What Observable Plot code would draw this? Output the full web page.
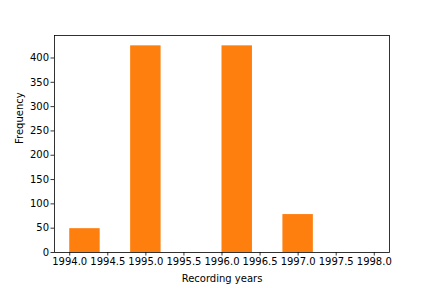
<!DOCTYPE html>
<html>
<head>
<meta charset="utf-8">
<script src="https://cdn.jsdelivr.net/npm/d3@7"></script>
<script src="https://cdn.jsdelivr.net/npm/@observablehq/plot@0.6"></script>
<style>
  html, body { margin: 0; padding: 0; background: #fff; }
  svg { display: block; }
</style>
</head>
<body>
<div id="chart"></div>
<script>
const binStart = [1994.0, 1994.4, 1994.8, 1995.2, 1995.6, 1996.0, 1996.4, 1996.8, 1997.2, 1997.6];
const binEnd   = [1994.4, 1994.8, 1995.2, 1995.6, 1996.0, 1996.4, 1996.8, 1997.2, 1997.6, 1998.0];
const counts   = [49, 0, 425, 0, 0, 425, 0, 78, 0, 0];
const xTicks = [1994.0, 1994.5, 1995.0, 1995.5, 1996.0, 1996.5, 1997.0, 1997.5, 1998.0];
const yTicks = [0, 50, 100, 150, 200, 250, 300, 350, 400];

const bins = binStart.map((s, i) => ({x1: s, x2: binEnd[i], count: counts[i]}));

const chart = Plot.plot({
  width: 432,
  height: 288,
  marginLeft: 54,
  marginRight: 43,
  marginTop: 35,
  marginBottom: 36,
  style: {fontFamily: "DejaVu Sans", fontSize: "10px", color: "#000", background: "#fff"},
  x: {domain: [1993.8, 1998.2], ticks: xTicks, tickFormat: d3.format(".1f"), tickSize: 3.5, tickPadding: 2, label: null},
  y: {domain: [0, 446.25], ticks: yTicks, tickSize: 3.5, tickPadding: 2, label: null},
  marks: [
    Plot.rectY(bins, {x1: "x1", x2: "x2", y: "count", fill: "#ff7f0e", inset: 0}),
    Plot.frame({stroke: "#000", strokeWidth: 0.8}),
    Plot.axisX({ticks: xTicks, tickFormat: d3.format(".1f"), tickSize: 3.5, tickPadding: 2, label: null, strokeWidth: 0.8}),
    Plot.axisY({ticks: yTicks, tickSize: 3.5, tickPadding: 2, label: null, strokeWidth: 0.8}),
    Plot.text(["Recording years"], {frameAnchor: "bottom", dy: 29, fontSize: 10, fill: "#000"}),
    Plot.text(["Frequency"], {frameAnchor: "left", dx: -35, rotate: -90, fontSize: 10, fill: "#000"})
  ]
});
document.getElementById("chart").appendChild(chart);
</script>
</body>
</html>
